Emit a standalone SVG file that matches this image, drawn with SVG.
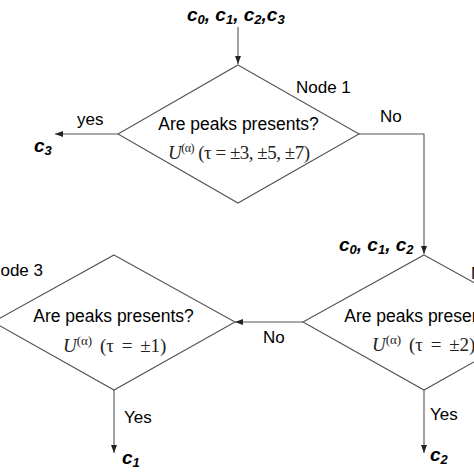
<svg xmlns="http://www.w3.org/2000/svg" width="474" height="474" viewBox="0 0 474 474">
<style>
.sh{fill:none;stroke:#555;stroke-width:1.1}
.ln{fill:none;stroke:#555;stroke-width:1.1;marker-end:url(#ah)}
.t{font-family:"Liberation Sans",Arial,sans-serif;font-size:17.5px;fill:#000}
.l{font-family:"Liberation Sans",Arial,sans-serif;font-size:17px;fill:#000}
.c{font-family:"Liberation Sans",Arial,sans-serif;font-size:19px;font-weight:bold;font-style:italic;fill:#000}
.s{font-size:13px}
.m{font-family:"Liberation Serif","Times New Roman",serif;font-size:19px;fill:#222}
</style>
<defs>
<marker id="ah" markerUnits="userSpaceOnUse" markerWidth="8" markerHeight="6" refX="8" refY="3" orient="auto">
<path d="M0,0 L8,3 L0,6 z" fill="#222"/>
</marker>
</defs>
<g id="connectors">
<line class="ln" x1="238" y1="27" x2="238" y2="64"/>
<line class="ln" x1="118" y1="134" x2="55" y2="134"/>
<polyline class="ln" points="359,134 424,134 424,254"/>
<line class="ln" x1="303" y1="322" x2="235" y2="322"/>
<line class="ln" x1="114" y1="390" x2="114" y2="453"/>
<line class="ln" x1="424" y1="390" x2="424" y2="453"/>
<text class="c" x="187" y="21">c<tspan class="s" dy="3">0</tspan><tspan dy="-3">, c</tspan><tspan class="s" dy="3">1</tspan><tspan dy="-3">, c</tspan><tspan class="s" dy="3">2</tspan><tspan dy="-3">,c</tspan><tspan class="s" dy="3">3</tspan></text>
<text class="l" x="77" y="125">yes</text>
<text class="c" x="34" y="152">c<tspan class="s" dy="3">3</tspan></text>
<text class="l" x="380" y="122">No</text>
<text class="c" x="339" y="251">c<tspan class="s" dy="3">0</tspan><tspan dy="-3">, c</tspan><tspan class="s" dy="3">1</tspan><tspan dy="-3">, c</tspan><tspan class="s" dy="3">2</tspan></text>
<text class="l" x="263" y="343">No</text>
<text class="l" x="124" y="423">Yes</text>
<text class="c" x="122" y="464">c<tspan class="s" dy="3">1</tspan></text>
<text class="l" x="430" y="420">Yes</text>
<text class="c" x="430" y="461">c<tspan class="s" dy="3">2</tspan></text>
</g>
<g id="node1">
<polygon class="sh" points="238,65 359,134 238,203 118,134"/>
<text class="l" x="296" y="93">Node 1</text>
<text class="t" x="238.5" y="130" text-anchor="middle">Are peaks presents?</text>
<text class="m" x="168" y="159" font-size="18" letter-spacing="-0.5"><tspan font-style="italic">U</tspan><tspan font-size="12" dy="-7">(α)</tspan><tspan dy="7"> (τ = ±3, ±5, ±7)</tspan></text>
</g>
<g id="node2">
<polygon class="sh" points="424,255 545,322 424,390 303,322"/>
<text class="l" x="471" y="279">Node 2</text>
<text class="t" x="424.5" y="322" text-anchor="middle">Are peaks presents?</text>
<text class="m" x="372" y="351" word-spacing="3"><tspan font-style="italic">U</tspan><tspan font-size="13" dy="-7">(α)</tspan><tspan dy="7"> (τ = ±2)</tspan></text>
</g>
<g id="node3">
<polygon class="sh" points="114,255 235,322 114,390 -7,322"/>
<text class="l" x="43" y="276" text-anchor="end">Node 3</text>
<text class="t" x="113.5" y="322" text-anchor="middle">Are peaks presents?</text>
<text class="m" x="63" y="352" word-spacing="3"><tspan font-style="italic">U</tspan><tspan font-size="13" dy="-7">(α)</tspan><tspan dy="7"> (τ = ±1)</tspan></text>
</g>
</svg>
